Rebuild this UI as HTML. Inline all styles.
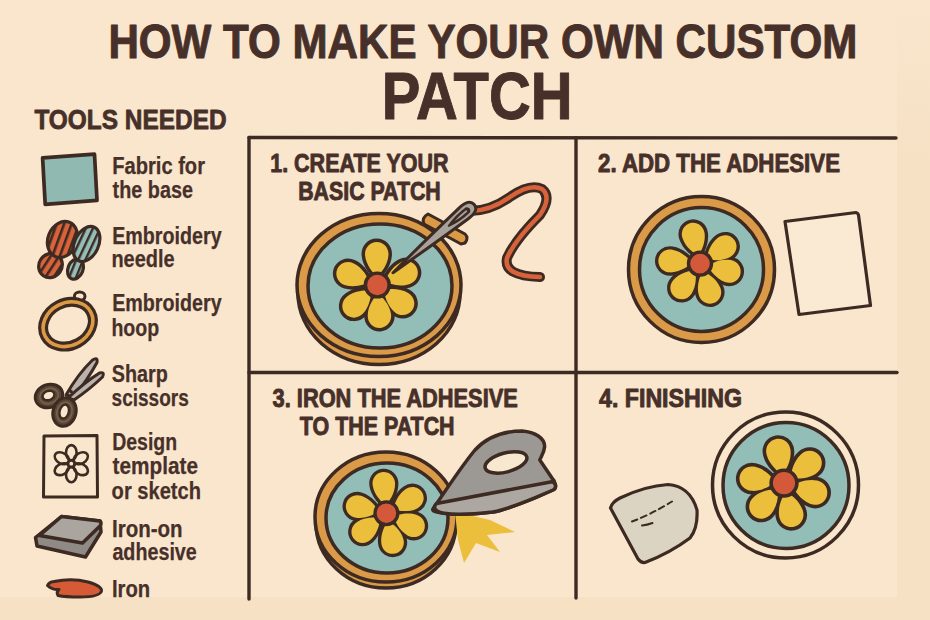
<!DOCTYPE html>
<html><head><meta charset="utf-8">
<style>
html,body{margin:0;padding:0;width:930px;height:620px;overflow:hidden;background:#f9e6cc}
svg{display:block;position:absolute;left:0;top:0}
text{font-family:"Liberation Sans",sans-serif;font-weight:bold;fill:#47302a;stroke:#47302a;stroke-linejoin:round}
.t1{stroke-width:1.0}.t2{stroke-width:0.9}.t3{stroke-width:0.25}.t4{stroke-width:0.8}
</style></head><body>
<svg width="930" height="620" viewBox="0 0 930 620">
<defs>
  <path id="pt" d="M0 -9 C-3.5 -11 -11 -20 -11.8 -30 C-12.5 -38 -6.5 -43.5 0 -43.5 C6.5 -43.5 12.5 -38 11.8 -30 C11 -20 3.5 -11 0 -9 Z"/>
  <pattern id="stO" width="7" height="7" patternUnits="userSpaceOnUse" patternTransform="rotate(-2)">
    <rect width="7" height="7" fill="#d8633a"/><rect width="2.6" height="7" fill="#3d2a22"/>
  </pattern>
  <pattern id="stT" width="6.5" height="6.5" patternUnits="userSpaceOnUse" patternTransform="rotate(0)">
    <rect width="6.5" height="6.5" fill="#93bdb7"/><rect width="2.4" height="6.5" fill="#3d2a22"/>
  </pattern>
  <linearGradient id="gR" x1="0" y1="0" x2="0" y2="1">
    <stop offset="0" stop-color="#f6e1c5" stop-opacity="0"/>
    <stop offset="0.25" stop-color="#f6e1c5" stop-opacity="1"/>
    <stop offset="1" stop-color="#f6e1c5" stop-opacity="1"/>
  </linearGradient>
</defs>

<!-- background bands -->
<rect x="897" y="0" width="33" height="620" fill="url(#gR)"/>
<rect x="0" y="597" width="897" height="23" fill="#f6e1c5"/>

<!-- texts -->
<text class="t1" x="108.4" y="57.5" font-size="47.24" textLength="749.0" lengthAdjust="spacingAndGlyphs">HOW TO MAKE YOUR OWN CUSTOM</text>
<text class="t1" x="381.8" y="118.6" font-size="67.3" textLength="190.8" lengthAdjust="spacingAndGlyphs">PATCH</text>
<text class="t4" x="34.4" y="128.9" font-size="27.62" textLength="192.2" lengthAdjust="spacingAndGlyphs">TOOLS NEEDED</text>
<text class="t2" x="270.2" y="172.15" font-size="25.4" textLength="178.4" lengthAdjust="spacingAndGlyphs">1. CREATE YOUR</text>
<text class="t2" x="298.2" y="199.65" font-size="25.4" textLength="142.6" lengthAdjust="spacingAndGlyphs">BASIC PATCH</text>
<text class="t2" x="598.0" y="171.95" font-size="25.4" textLength="242.0" lengthAdjust="spacingAndGlyphs">2. ADD THE ADHESIVE</text>
<text class="t2" x="272.6" y="407.25" font-size="25.4" textLength="245.2" lengthAdjust="spacingAndGlyphs">3. IRON THE ADHESIVE</text>
<text class="t2" x="299.8" y="435.25" font-size="25.4" textLength="154.8" lengthAdjust="spacingAndGlyphs">TO THE PATCH</text>
<text class="t2" x="599.0" y="407.05" font-size="25.4" textLength="143.0" lengthAdjust="spacingAndGlyphs">4. FINISHING</text>
<text class="t3" x="112.2" y="173.57" font-size="24" textLength="92.8" lengthAdjust="spacingAndGlyphs">Fabric for</text>
<text class="t3" x="112.6" y="197.97" font-size="24" textLength="80.4" lengthAdjust="spacingAndGlyphs">the base</text>
<text class="t3" x="112.2" y="243.68" font-size="24" textLength="109.4" lengthAdjust="spacingAndGlyphs">Embroidery</text>
<text class="t3" x="111.4" y="267.48" font-size="24" textLength="63.2" lengthAdjust="spacingAndGlyphs">needle</text>
<text class="t3" x="112.2" y="311.27" font-size="24" textLength="109.4" lengthAdjust="spacingAndGlyphs">Embroidery</text>
<text class="t3" x="111.4" y="335.88" font-size="24" textLength="47.8" lengthAdjust="spacingAndGlyphs">hoop</text>
<text class="t3" x="111.8" y="381.68" font-size="24" textLength="56.0" lengthAdjust="spacingAndGlyphs">Sharp</text>
<text class="t3" x="111.6" y="406.27" font-size="24" textLength="77.2" lengthAdjust="spacingAndGlyphs">scissors</text>
<text class="t3" x="112.2" y="449.88" font-size="24" textLength="65.0" lengthAdjust="spacingAndGlyphs">Design</text>
<text class="t3" x="112.6" y="474.07" font-size="24" textLength="85.4" lengthAdjust="spacingAndGlyphs">template</text>
<text class="t3" x="111.6" y="498.88" font-size="24" textLength="89.4" lengthAdjust="spacingAndGlyphs">or sketch</text>
<text class="t3" x="112.0" y="536.77" font-size="24" textLength="70.6" lengthAdjust="spacingAndGlyphs">Iron-on</text>
<text class="t3" x="112.4" y="560.08" font-size="24" textLength="84.4" lengthAdjust="spacingAndGlyphs">adhesive</text>
<text class="t3" x="112.0" y="597.08" font-size="24" textLength="38.2" lengthAdjust="spacingAndGlyphs">Iron</text>
<!-- sidebar icons -->
<path d="M42.6 157.8 L94.5 154.2 L97 200.3 L45.2 204.4 Z" fill="#90b9b2" stroke="#3d2a22" stroke-width="3.7" stroke-linejoin="round"/>
<!-- skeins -->
<g stroke="#3d2a22" stroke-width="3.2">
  <ellipse cx="50.5" cy="265.5" rx="11.5" ry="12.5" transform="rotate(35 50.5 265.5)" fill="url(#stO)"/>
  <ellipse cx="62.5" cy="239.5" rx="14.5" ry="18.5" transform="rotate(22 62.5 239.5)" fill="url(#stO)"/>
  <ellipse cx="75.5" cy="269" rx="7.5" ry="10.5" transform="rotate(22 75.5 269)" fill="url(#stT)"/>
  <ellipse cx="86.5" cy="244" rx="12" ry="18.5" transform="rotate(25 86.5 244)" fill="url(#stT)"/>
</g>
<!-- hoop icon -->
<g stroke="#3d2a22" fill="none">
  <ellipse cx="79.7" cy="296.3" rx="5.3" ry="4.3" stroke-width="3" fill="#f9e6cc"/>
  <ellipse cx="68" cy="324.2" rx="25.8" ry="21.3" transform="rotate(-28 68 324.2)" stroke-width="10"/>
  <ellipse cx="68" cy="324.2" rx="25.8" ry="21.3" transform="rotate(-28 68 324.2)" stroke="#dc9a45" stroke-width="3.6"/>
</g>
<!-- scissors -->
<g stroke="#3d2a22" stroke-width="3" stroke-linejoin="round">
  <path d="M66 395 Q78 374 92.5 360 Q98 356.5 97 362.5 Q88 379 74 397 Z" fill="#b9b3ab"/>
  <path d="M68 398 Q85 382 99.5 373 Q105 371.5 102.5 377 Q90 389 74 400 Z" fill="#b9b3ab"/>
  <ellipse cx="49" cy="396" rx="14" ry="11.5" transform="rotate(-20 49 396)" fill="#5b4636"/>
  <ellipse cx="64.5" cy="412" rx="11.5" ry="14.5" transform="rotate(15 64.5 412)" fill="#5b4636"/>
  <ellipse cx="49" cy="396" rx="9.5" ry="7.5" transform="rotate(-20 49 396)" fill="none" stroke="#7a6249" stroke-width="1.5"/>
  <ellipse cx="64.5" cy="412" rx="7.5" ry="10" transform="rotate(15 64.5 412)" fill="none" stroke="#7a6249" stroke-width="1.5"/>
  <ellipse cx="48.5" cy="395.5" rx="6" ry="4.5" transform="rotate(-20 48.5 395.5)" fill="#f9e6cc" stroke-width="2.2"/>
  <ellipse cx="64.2" cy="411.6" rx="4.5" ry="7" transform="rotate(15 64.2 411.6)" fill="#f9e6cc" stroke-width="2.2"/>
  <circle cx="71" cy="391.5" r="1.8" fill="#3d2a22" stroke="none"/>
</g>
<!-- design template -->
<g stroke="#3d2a22" stroke-width="3" fill="none">
  <path d="M44 436 L97 435.5 L97.5 497 L43.5 497 Z" stroke-linejoin="round"/>
</g>
<g transform="translate(71.3,463.7)" stroke="#3d2a22" stroke-width="2.6" fill="none">
  <ellipse cx="0" cy="-11" rx="5.3" ry="7.6"/>
  <ellipse cx="0" cy="-11" rx="5.3" ry="7.6" transform="rotate(60)"/>
  <ellipse cx="0" cy="-11" rx="5.3" ry="7.6" transform="rotate(120)"/>
  <ellipse cx="0" cy="-11" rx="5.3" ry="7.6" transform="rotate(180)"/>
  <ellipse cx="0" cy="-11" rx="5.3" ry="7.6" transform="rotate(240)"/>
  <ellipse cx="0" cy="-11" rx="5.3" ry="7.6" transform="rotate(300)"/>
  <circle r="3" stroke-width="2.2" fill="#f9e6cc"/>
</g>
<!-- adhesive slab -->
<g stroke="#3d2a22" stroke-width="3.5" stroke-linejoin="round">
  <path d="M61.5 516.5 L100 521 L101 532 L85.5 557 L37 546 L35.5 537.5 Z" fill="#8f8a85"/>
  <path d="M61.5 516.5 L100 521 Q102 523 100 526 L82.5 543 L39.5 535.5 Z" fill="#aaa59e"/>
</g>
<!-- iron icon -->
<path d="M47.5 585.5 Q49 582 54 581.5 Q72 578 88 582 Q102 586 101.5 591 Q100 597 80 597 Q65 597 58 595.5 Q56 592 59 589.5 Q52 590 47.5 585.5 Z" fill="#d55a35" stroke="#3d2a22" stroke-width="3" stroke-linejoin="round"/>

<!-- grid -->
<g stroke="#3d2a22" stroke-width="3.4" stroke-linecap="round" fill="none">
  <path d="M249 137.5 L896 138"/>
  <path d="M249 137.5 L249 599"/>
  <path d="M576 138 L576 598"/>
  <path d="M249 372.5 L897 372.5"/>
</g>

<!-- panel 1 -->
<g stroke="#3d2a22" stroke-width="3.5">
  <ellipse cx="379" cy="293.5" rx="81" ry="71" fill="#da9a48"/>
  <ellipse cx="379" cy="285" rx="82" ry="71.5" fill="#da9a48"/>
  <ellipse cx="380" cy="286" rx="72" ry="62" fill="#93bdb7"/>
</g>
<g transform="translate(377.3,285) scale(0.99)"><g stroke="#3d2a22" stroke-width="7" fill="none" stroke-linejoin="round"><use href="#pt" transform="rotate(-1)"/><use href="#pt" transform="rotate(67)"/><use href="#pt" transform="rotate(126)"/><use href="#pt" transform="rotate(176)"/><use href="#pt" transform="rotate(228)"/><use href="#pt" transform="rotate(291)"/></g><g fill="#ebbe3c"><use href="#pt" transform="rotate(-1)"/><use href="#pt" transform="rotate(67)"/><use href="#pt" transform="rotate(126)"/><use href="#pt" transform="rotate(176)"/><use href="#pt" transform="rotate(228)"/><use href="#pt" transform="rotate(291)"/></g><circle r="12" fill="#d3593a" stroke="#3d2a22" stroke-width="3.5"/></g>
<!-- clamp -->
<g stroke="#3d2a22" stroke-width="3" stroke-linejoin="round">
  <path d="M428 214 L465 234 Q469 238 465 243 L461 244 L424 224 Q421 218 428 214 Z" fill="#dc9a45"/>
</g>
<!-- thread -->
<path d="M470 211 Q490 211 510 197 Q530 183 542 189 Q552 197 540 215 Q515 240 507 258 Q503 276 540 277" fill="none" stroke="#3d2a22" stroke-width="10" stroke-linecap="round" stroke-linejoin="round"/>
<path d="M470 211 Q490 211 510 197 Q530 183 542 189 Q552 197 540 215 Q515 240 507 258 Q503 276 540 277" fill="none" stroke="#d8633a" stroke-width="4.5" stroke-linecap="round" stroke-linejoin="round"/>
<!-- needle -->
<g transform="translate(393,272.7) rotate(-40)">
  <path d="M0 0 Q40 -3.5 92 -7 Q106 -8 106 0 Q106 8 92 7 Q40 3.5 0 0 Z" fill="#a7a29c" stroke="#3d2a22" stroke-width="3" stroke-linejoin="round"/>
  <path d="M72 -0.8 Q85 -4.3 98 -3.3 Q102 0 98 3.3 Q85 4.3 72 0.8 Z" fill="#3d2a22"/>
  <path d="M80 0 Q89 -1.3 96 -0.9 Q97 0 96 0.9 Q89 1.3 80 0 Z" fill="#a7a29c"/>
</g>

<!-- panel 2 -->
<g stroke="#3d2a22" stroke-width="3.5">
  <circle cx="701.5" cy="269.5" r="73" fill="#da9a48"/>
  <circle cx="701.5" cy="269.5" r="62" fill="#93bdb7"/>
</g>
<g transform="translate(700,263.6) scale(0.96)"><g stroke="#3d2a22" stroke-width="7" fill="none" stroke-linejoin="round"><use href="#pt" transform="rotate(-13)"/><use href="#pt" transform="rotate(56)"/><use href="#pt" transform="rotate(105)"/><use href="#pt" transform="rotate(161)"/><use href="#pt" transform="rotate(217)"/><use href="#pt" transform="rotate(275)"/></g><g fill="#ebbe3c"><use href="#pt" transform="rotate(-13)"/><use href="#pt" transform="rotate(56)"/><use href="#pt" transform="rotate(105)"/><use href="#pt" transform="rotate(161)"/><use href="#pt" transform="rotate(217)"/><use href="#pt" transform="rotate(275)"/></g><circle r="12" fill="#d3593a" stroke="#3d2a22" stroke-width="3.5"/></g>
<path d="M785 221.5 L856 212.5 Q858 213 858.5 215 L870.5 305.5 L799 314.5 Z" fill="#faead3" stroke="#3d2a22" stroke-width="3.2" stroke-linejoin="round"/>

<!-- panel 3 -->
<g stroke="#3d2a22" stroke-width="3.5">
  <ellipse cx="386" cy="523" rx="70" ry="65" fill="#da9a48"/>
  <ellipse cx="386" cy="517" rx="71" ry="65" fill="#da9a48"/>
  <ellipse cx="387" cy="518" rx="61" ry="55" fill="#93bdb7"/>
</g>
<g transform="translate(386.4,513.2) scale(0.95)"><g stroke="#3d2a22" stroke-width="7" fill="none" stroke-linejoin="round"><use href="#pt" transform="rotate(-5)"/><use href="#pt" transform="rotate(60)"/><use href="#pt" transform="rotate(115)"/><use href="#pt" transform="rotate(168)"/><use href="#pt" transform="rotate(232)"/><use href="#pt" transform="rotate(283)"/></g><g fill="#ebbe3c"><use href="#pt" transform="rotate(-5)"/><use href="#pt" transform="rotate(60)"/><use href="#pt" transform="rotate(115)"/><use href="#pt" transform="rotate(168)"/><use href="#pt" transform="rotate(232)"/><use href="#pt" transform="rotate(283)"/></g><circle r="12" fill="#d3593a" stroke="#3d2a22" stroke-width="3.5"/></g>
<!-- steam burst -->
<path d="M455 512 L490 520 L515 532 L487 535 L500 552 L476 543 L464 563 L458 540 Z" fill="#ebbe3c"/>
<!-- iron -->
<g stroke="#3d2a22" stroke-width="3.5" stroke-linejoin="round">
  <path d="M433.3 508.3 C445 492 460 468 475 450 C488 436 505 431 522 431 C535 432 545 438 544.6 447 C544 453 541 457 539.8 460 L552 478 C556 482 557 488 553 490 L536 497.4 C520 504 505 510 492.6 512 C475 514 455 515 444 513.2 C436 512 431 511 433.3 508.3 Z" fill="#9c9893"/>
  <path d="M436.5 503.5 L551.9 481.7 C556 483 557 488 553 490 L536 497.4 C520 504 505 510 492.6 512 C475 514 455 515 444 513.2 C436 512 432 508 436.5 503.5 Z" fill="#aca7a1"/>
  <ellipse cx="506" cy="462.4" rx="21.5" ry="9.5" transform="rotate(-15 506 462.4)" fill="#f9e8d0"/>
</g>

<!-- panel 4 -->
<circle cx="785.5" cy="485" r="73" fill="none" stroke="#3d2a22" stroke-width="3.5"/>
<circle cx="786" cy="485.5" r="63" fill="#93bdb7" stroke="#3d2a22" stroke-width="3.5"/>
<g transform="translate(784,483.1) scale(1.03)"><g stroke="#3d2a22" stroke-width="7" fill="none" stroke-linejoin="round"><use href="#pt" transform="rotate(-10)"/><use href="#pt" transform="rotate(52)"/><use href="#pt" transform="rotate(107)"/><use href="#pt" transform="rotate(167)"/><use href="#pt" transform="rotate(224)"/><use href="#pt" transform="rotate(278)"/></g><g fill="#ebbe3c"><use href="#pt" transform="rotate(-10)"/><use href="#pt" transform="rotate(52)"/><use href="#pt" transform="rotate(107)"/><use href="#pt" transform="rotate(167)"/><use href="#pt" transform="rotate(224)"/><use href="#pt" transform="rotate(278)"/></g><circle r="12.5" fill="#d3593a" stroke="#3d2a22" stroke-width="3.5"/></g>
<!-- beige piece -->
<path d="M610.5 508 Q612 502 620 498 Q645 486 668 484.5 Q690 486 697 510 Q698 528 690 538 Q670 553 645 562.5 Q641 563 638 559 Z" fill="#dcd4c2" stroke="#3d2a22" stroke-width="3.2" stroke-linejoin="round"/>
<path d="M632 521.5 Q650 515 672 501.5" fill="none" stroke="#3d2a22" stroke-width="2" stroke-dasharray="6 4" stroke-linecap="round"/>
<path d="M642 525.5 Q647 525 652.5 523" fill="none" stroke="#3d2a22" stroke-width="2" stroke-linecap="round"/>

</svg>
</body></html>
